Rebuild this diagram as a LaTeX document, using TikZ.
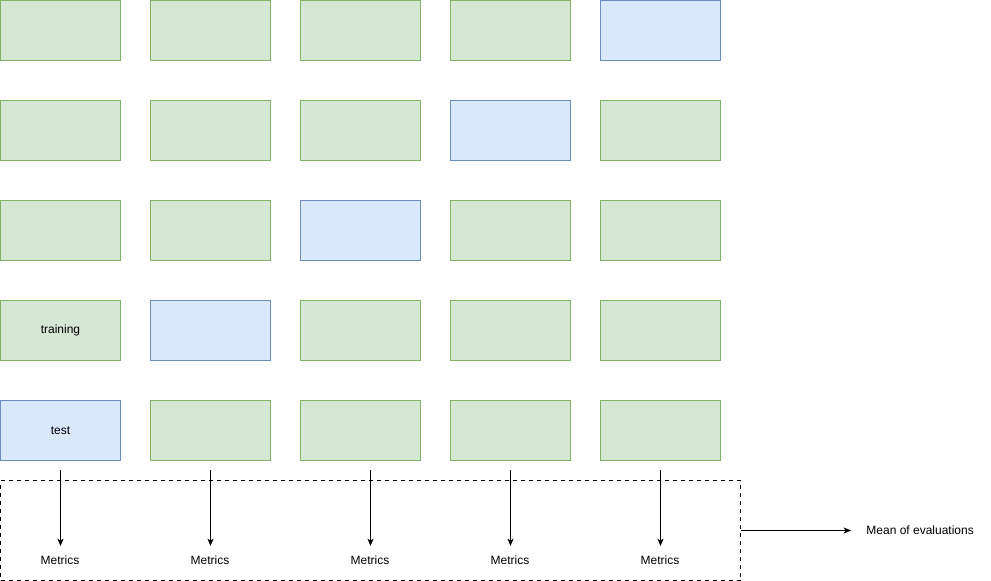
\documentclass[tikz,border=0pt]{standalone}
\usepackage{fontspec}
\setmainfont{Liberation Sans}
\usetikzlibrary{arrows.meta}
\definecolor{trainfill}{HTML}{D5E8D4}
\definecolor{traindraw}{HTML}{82B366}
\definecolor{testfill}{HTML}{DAE8FC}
\definecolor{testdraw}{HTML}{6C8EBF}
\tikzset{
  trainbox/.style={draw=traindraw,fill=trainfill,minimum width=90pt,minimum height=45pt,inner sep=0pt},
  testbox/.style={draw=testdraw,fill=testfill,minimum width=90pt,minimum height=45pt,inner sep=0pt},
  lbl/.style={font=\fontsize{9}{11}\selectfont,inner sep=0pt}
}

\begin{document}
\begin{tikzpicture}[line cap=butt,line join=miter,>={Stealth[length=5.5pt,width=4.5pt,inset=1.5pt]},x=0.75pt,y=-0.75pt,line width=0.6pt]
\useasboundingbox (0,0) rectangle (991,581);
% folds, one column per round
\node[trainbox] (f11) at (60.5,30.5) {};
\node[trainbox] (f12) at (60.5,130.5) {};
\node[trainbox] (f13) at (60.5,230.5) {};
\node[trainbox,lbl] (f14) at (60.5,330.5) {training};
\node[testbox,lbl] (f15) at (60.5,430.5) {test};
\node[trainbox] (f21) at (210.5,30.5) {};
\node[trainbox] (f22) at (210.5,130.5) {};
\node[trainbox] (f23) at (210.5,230.5) {};
\node[testbox] (f24) at (210.5,330.5) {};
\node[trainbox] (f25) at (210.5,430.5) {};
\node[trainbox] (f31) at (360.5,30.5) {};
\node[trainbox] (f32) at (360.5,130.5) {};
\node[testbox] (f33) at (360.5,230.5) {};
\node[trainbox] (f34) at (360.5,330.5) {};
\node[trainbox] (f35) at (360.5,430.5) {};
\node[trainbox] (f41) at (510.5,30.5) {};
\node[testbox] (f42) at (510.5,130.5) {};
\node[trainbox] (f43) at (510.5,230.5) {};
\node[trainbox] (f44) at (510.5,330.5) {};
\node[trainbox] (f45) at (510.5,430.5) {};
\node[testbox] (f51) at (660.5,30.5) {};
\node[trainbox] (f52) at (660.5,130.5) {};
\node[trainbox] (f53) at (660.5,230.5) {};
\node[trainbox] (f54) at (660.5,330.5) {};
\node[trainbox] (f55) at (660.5,430.5) {};
% evaluation
\node[draw,dashed,minimum width=555pt,minimum height=75pt,inner sep=0pt] (evalbox) at (370.5,530.5) {};
\coordinate (s1) at (60.5,470);
\coordinate (s2) at (210.5,470);
\coordinate (s3) at (370.5,470);
\coordinate (s4) at (510.5,470);
\coordinate (s5) at (660.5,470);
\coordinate (e1) at (60.5,546);
\coordinate (e2) at (210.5,546);
\coordinate (e3) at (370.5,546);
\coordinate (e4) at (510.5,546);
\coordinate (e5) at (660.5,546);
\node[lbl] (m1) at (60,560) {Metrics};
\node[lbl] (m2) at (210,560) {Metrics};
\node[lbl] (m3) at (370,560) {Metrics};
\node[lbl] (m4) at (510,560) {Metrics};
\node[lbl] (m5) at (660,560) {Metrics};
\draw[->] (s1) -- (e1);
\draw[->] (s2) -- (e2);
\draw[->] (s3) -- (e3);
\draw[->] (s4) -- (e4);
\draw[->] (s5) -- (e5);
\coordinate (meanend) at (851,530.5);
\node[lbl,anchor=west] (mean) at (866,530) {Mean of evaluations};
\draw[->] (evalbox.east) -- (meanend);
\end{tikzpicture}
\end{document}
